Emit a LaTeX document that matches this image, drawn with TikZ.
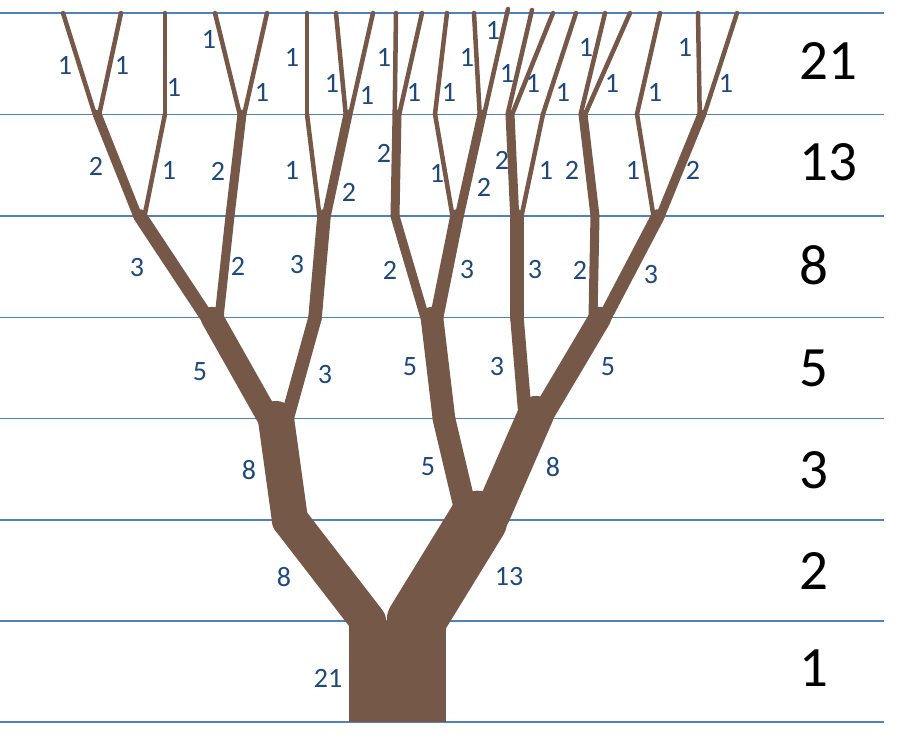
\documentclass[tikz,border=0pt]{standalone}
\usepackage{fontspec}
\setmainfont{Carlito}
\definecolor{bark}{RGB}{118,88,72}
\definecolor{rule}{RGB}{79,129,189}
\definecolor{labblue}{RGB}{31,73,125}
\tikzset{
  br/.style={draw=bark, line width=#1*4.52pt, line cap=round, line join=round},
  lvl/.style={draw=rule, line width=1.3pt},
  lab/.style={text=labblue, inner sep=0pt, font=\fontsize{28}{28}\selectfont},
  big/.style={text=black, inner sep=0pt, anchor=west, font=\fontsize{57}{57}\selectfont}
}
\begin{document}
\begin{tikzpicture}[x=1pt,y=-1pt]
\useasboundingbox (0,0) rectangle (900,738);
% level lines
\foreach \yy/\nm in {13/l0,114.5/l1,216/l2,317.5/l3,418.5/l4,520/l5,621/l6,722/l7}{
  \coordinate (\nm a) at (0,\yy);
  \coordinate (\nm b) at (884,\yy);
  \draw[lvl] (\nm a) -- (\nm b);
}
% junction coordinates
\coordinate (tb) at (397.5,722);
\coordinate (s8) at (368,621);  \coordinate (s13) at (416,621);
\coordinate (e8) at (290,520);  \coordinate (e13) at (478,520);
\coordinate (e8b) at (276,419);
\coordinate (s5m) at (466,512); \coordinate (e5m) at (444,419);
\coordinate (s8r) at (492,515); \coordinate (e8r) at (536,414);
\coordinate (e5l) at (212,318); \coordinate (e3l) at (315,318);
\coordinate (e5mm) at (432,318);
\coordinate (e3r) at (517,318); \coordinate (e5r) at (600,318);
\coordinate (e3a) at (140,216); \coordinate (e2a) at (230,216);
\coordinate (e3b) at (324,216);
\coordinate (e2c) at (395,216); \coordinate (e3c) at (457,216);
\coordinate (e3d) at (517,216);
\coordinate (e2e) at (595,216); \coordinate (e3e) at (658,216);
\coordinate (A2) at (97,114);  \coordinate (A1) at (165,114);
\coordinate (B2) at (242,114);
\coordinate (C1) at (307,114); \coordinate (C2) at (348,114);
\coordinate (D2) at (397,114);
\coordinate (E1) at (435,114); \coordinate (E2) at (482,114);
\coordinate (F2) at (510,114); \coordinate (F1) at (543,114);
\coordinate (G2) at (583,114);
\coordinate (H1) at (637,114); \coordinate (H2) at (702,114);
% leaves
\foreach \xx/\yy [count=\i] in {63/13,121/13,165/13,215/13,267/13,307/13,336/13,373/13,396/13,422/13,447/13,474/13,508/9,532/10,553/13,576/13,605/13,630/13,660/13,698/13,737/13}{
  \coordinate (t\i) at (\xx,\yy);
}
% trunk
\fill[bark] (349,621) rectangle (446,722);
% level 2
\draw[br=8] (s8) -- (e8);
\draw[br=13] (s13) -- (e13);
% level 3
\draw[br=8] (e8) -- (e8b);
\draw[br=5] (s5m) -- (e5m);
\draw[br=8] (s8r) -- (e8r);
% level 4
\draw[br=5] ([xshift=-7pt]e8b) -- (e5l);
\draw[br=3] ([xshift=11pt]e8b) -- (e3l);
\draw[br=5] (e5m) -- (e5mm);
\draw[br=3] ([xshift=-11pt]e8r) -- (e3r);
\draw[br=5] ([xshift=7pt]e8r) -- (e5r);
% level 5
\draw[br=3] ([xshift=-4.5pt]e5l) -- (e3a);
\draw[br=2] ([xshift=7pt]e5l) -- (e2a);
\draw[br=3] (e3l) -- (e3b);
\draw[br=2] ([xshift=-7pt]e5mm) -- (e2c);
\draw[br=3] ([xshift=4.5pt]e5mm) -- (e3c);
\draw[br=3] (e3r) -- (e3d);
\draw[br=2] ([xshift=-7pt]e5r) -- (e2e);
\draw[br=3] ([xshift=4.5pt]e5r) -- (e3e);
% level 6
\draw[br=2] ([xshift=-2.3pt]e3a) -- (A2);
\draw[br=1] ([xshift=4.5pt]e3a) -- (A1);
\draw[br=2] (e2a) -- (B2);
\draw[br=1] ([xshift=-4.5pt]e3b) -- (C1);
\draw[br=2] ([xshift=2.3pt]e3b) -- (C2);
\draw[br=2] (e2c) -- (D2);
\draw[br=1] ([xshift=-4.5pt]e3c) -- (E1);
\draw[br=2] ([xshift=2.3pt]e3c) -- (E2);
\draw[br=2] ([xshift=-2.3pt]e3d) -- (F2);
\draw[br=1] ([xshift=4.5pt]e3d) -- (F1);
\draw[br=2] (e2e) -- (G2);
\draw[br=1] ([xshift=-4.5pt]e3e) -- (H1);
\draw[br=2] ([xshift=2.3pt]e3e) -- (H2);
% level 7
\draw[br=1] ([xshift=-2.3pt]A2) -- (t1);
\draw[br=1] ([xshift=2.3pt]A2) -- (t2);
\draw[br=1] (A1) -- (t3);
\draw[br=1] ([xshift=-2.3pt]B2) -- (t4);
\draw[br=1] ([xshift=2.3pt]B2) -- (t5);
\draw[br=1] (C1) -- (t6);
\draw[br=1] ([xshift=-2.3pt]C2) -- (t7);
\draw[br=1] ([xshift=2.3pt]C2) -- (t8);
\draw[br=1] ([xshift=-2.3pt]D2) -- (t9);
\draw[br=1] ([xshift=2.3pt]D2) -- (t10);
\draw[br=1] (E1) -- (t11);
\draw[br=1] ([xshift=-2.3pt]E2) -- (t12);
\draw[br=1] ([xshift=2.3pt]E2) -- (t13);
\draw[br=1] ([xshift=-2.3pt]F2) -- (t14);
\draw[br=1] ([xshift=2.3pt]F2) -- (t15);
\draw[br=1] (F1) -- (t16);
\draw[br=1] ([xshift=-2.3pt]G2) -- (t17);
\draw[br=1] ([xshift=2.3pt]G2) -- (t18);
\draw[br=1] (H1) -- (t19);
\draw[br=1] ([xshift=-2.3pt]H2) -- (t20);
\draw[br=1] ([xshift=2.3pt]H2) -- (t21);
% branch labels
\foreach \xx/\yy [count=\i] in {65/65,122/65,174/87,209/39,262/92,292/57,332/83,367/95,384/57,414/92,449/92,467/57,493/30,507/73,533/83,563/92,586/47,612/83,655/92,685/47,726/83}{
  \node[lab] (ls\i) at (\xx,\yy) {1};
}
\foreach \xx/\yy/\v [count=\i] in {96/166/2,169/170/1,218/171/2,292/170/1,349/192/2,384/153/2,437/173/1,484/187/2,502/160/2,546/170/1,572/170/2,633/170/1,693/170/2}{
  \node[lab] (lf\i) at (\xx,\yy) {\v};
}
\foreach \xx/\yy/\v [count=\i] in {137/268/3,238/266/2,297/265/3,390/270/2,467/270/3,535/270/3,580/270/2,651/275/3}{
  \node[lab] (le\i) at (\xx,\yy) {\v};
}
\foreach \xx/\yy/\v [count=\i] in {200/372/5,325/375/3,410/367/5,497/367/3,608/367/5}{
  \node[lab] (ld\i) at (\xx,\yy) {\v};
}
\foreach \xx/\yy/\v [count=\i] in {249/470/8,428/467/5,553/467/8}{
  \node[lab] (lc\i) at (\xx,\yy) {\v};
}
\node[lab] (lb1) at (284,577) {8};
\node[lab] (lb2) at (509,577) {13};
\node[lab] (la1) at (328,678) {21};
% right column
\node[big] (r7) at (799,61) {21};
\node[big] (r6) at (799,162) {13};
\node[big] (r5) at (799,265) {8};
\node[big] (r4) at (799,368) {5};
\node[big] (r3) at (799,470) {3};
\node[big] (r2) at (799,571) {2};
\node[big] (r1) at (799,668) {1};
\end{tikzpicture}
\end{document}
